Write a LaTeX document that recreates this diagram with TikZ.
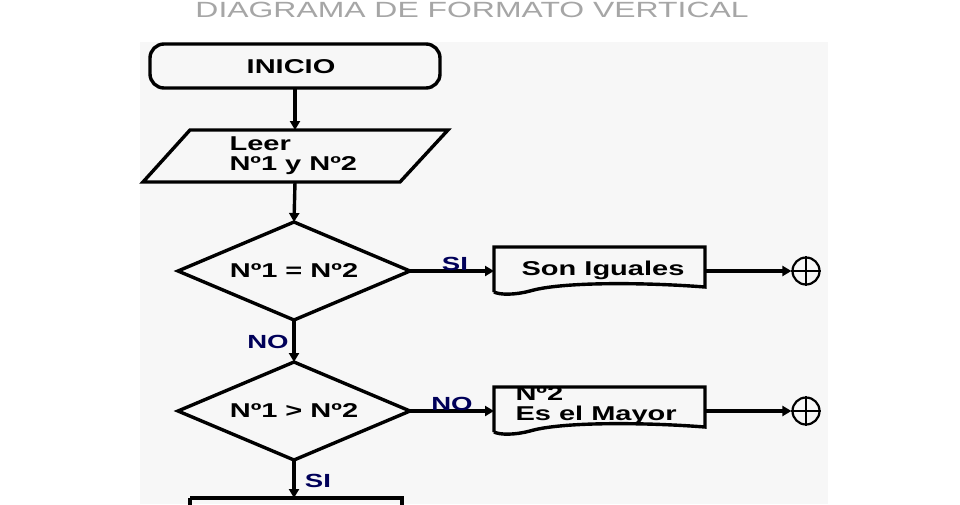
\documentclass[tikz,border=0pt]{standalone}
\usepackage{fontspec}
\setmainfont[FakeStretch=1.45]{Liberation Sans}
\usetikzlibrary{shapes.geometric,arrows.meta}
\begin{document}
\begin{tikzpicture}[x=1pt,y=-1pt,
  ln/.style={line width=3.4pt,black},
  arr/.style={ln,-{Triangle[length=9pt,width=10pt]}},
  lbl/.style={font=\bfseries\fontsize{20}{20}\selectfont},
  yn/.style={font=\bfseries\fontsize{19}{21}\selectfont,text=blue!35!black}]
\useasboundingbox (0,0) rectangle (960,504);
\fill[white] (0,0) rectangle (960,504);
\fill[gray!6] (140,42) rectangle (828,504);
\node[text=gray!70,font=\fontsize{22}{24}\selectfont] (title) at (472,10) {DIAGRAMA DE FORMATO VERTICAL};
% nodes
\draw[ln,rounded corners=14pt] (150,44) rectangle (440,88);
\node[lbl] (ini) at (291,67) {INICIO};
\coordinate (iniB) at (295,88);
\draw[ln] (190,130) -- (448,130) -- (400,182) -- (143,182) -- cycle;
\node[lbl,align=left,anchor=west] (leer) at (226,156) {Leer\\Nº1 y Nº2};
\coordinate (leerT) at (295,130); \coordinate (leerB) at (295,182);
\draw[ln] (178,271) -- (294,222) -- (410,271) -- (294,320) -- cycle;
\node[lbl] (d1) at (294,271) {Nº1 = Nº2};
\coordinate (d1T) at (294,222); \coordinate (d1B) at (294,320); \coordinate (d1R) at (410,271);
\draw[ln] (178,411) -- (294,362) -- (410,411) -- (294,460) -- cycle;
\node[lbl] (d2) at (294,411) {Nº1 > Nº2};
\coordinate (d2T) at (294,362); \coordinate (d2B) at (294,460); \coordinate (d2R) at (410,411);
% documents
\draw[ln] (494,292) -- (494,247) -- (705,247) -- (705,287) .. controls (640,282) and (560,282) .. (530,291) .. controls (515,295) and (500,295) .. (494,292);
\node[lbl] (s1) at (603,270) {Son Iguales};
\coordinate (s1L) at (494,271); \coordinate (s1R) at (705,271);
\draw[ln] (494,432) -- (494,387) -- (705,387) -- (705,427) .. controls (640,422) and (560,422) .. (530,431) .. controls (515,435) and (500,435) .. (494,432);
\node[lbl,align=left,anchor=west] (s2) at (512,406) {Nº2\\Es el Mayor};
\coordinate (s2L) at (494,411); \coordinate (s2R) at (705,411);
% end circles
\node[circle,draw,line width=2.2pt,minimum size=27pt,inner sep=0] (e1) at (806,271) {};
\draw[line width=2.2pt] (e1.north)--(e1.south) (e1.west)--(e1.east);
\node[circle,draw,line width=2.2pt,minimum size=27pt,inner sep=0] (e2) at (806,411) {};
\draw[line width=2.2pt] (e2.north)--(e2.south) (e2.west)--(e2.east);
% bottom box
\draw[ln] (190,498) -- (190,520) (190,498) -- (402,498) -- (402,520);
\coordinate (bot) at (294,498);
% connectors
\draw[arr] (iniB) -- (leerT);
\draw[arr] (leerB) -- (d1T);
\draw[arr] (d1B) -- (d2T);
\draw[arr] (d2B) -- (bot);
\draw[arr] (d1R) -- (s1L);
\draw[arr] (d2R) -- (s2L);
\draw[arr] (s1R) -- (e1.west);
\draw[arr] (s2R) -- (e2.west);
\node[yn] (no1) at (268,342) {NO};
\node[yn] (si1) at (455,264) {SI};
\node[yn] (no2) at (452,404) {NO};
\node[yn] (si2) at (318,481) {SI};
\end{tikzpicture}
\end{document}
